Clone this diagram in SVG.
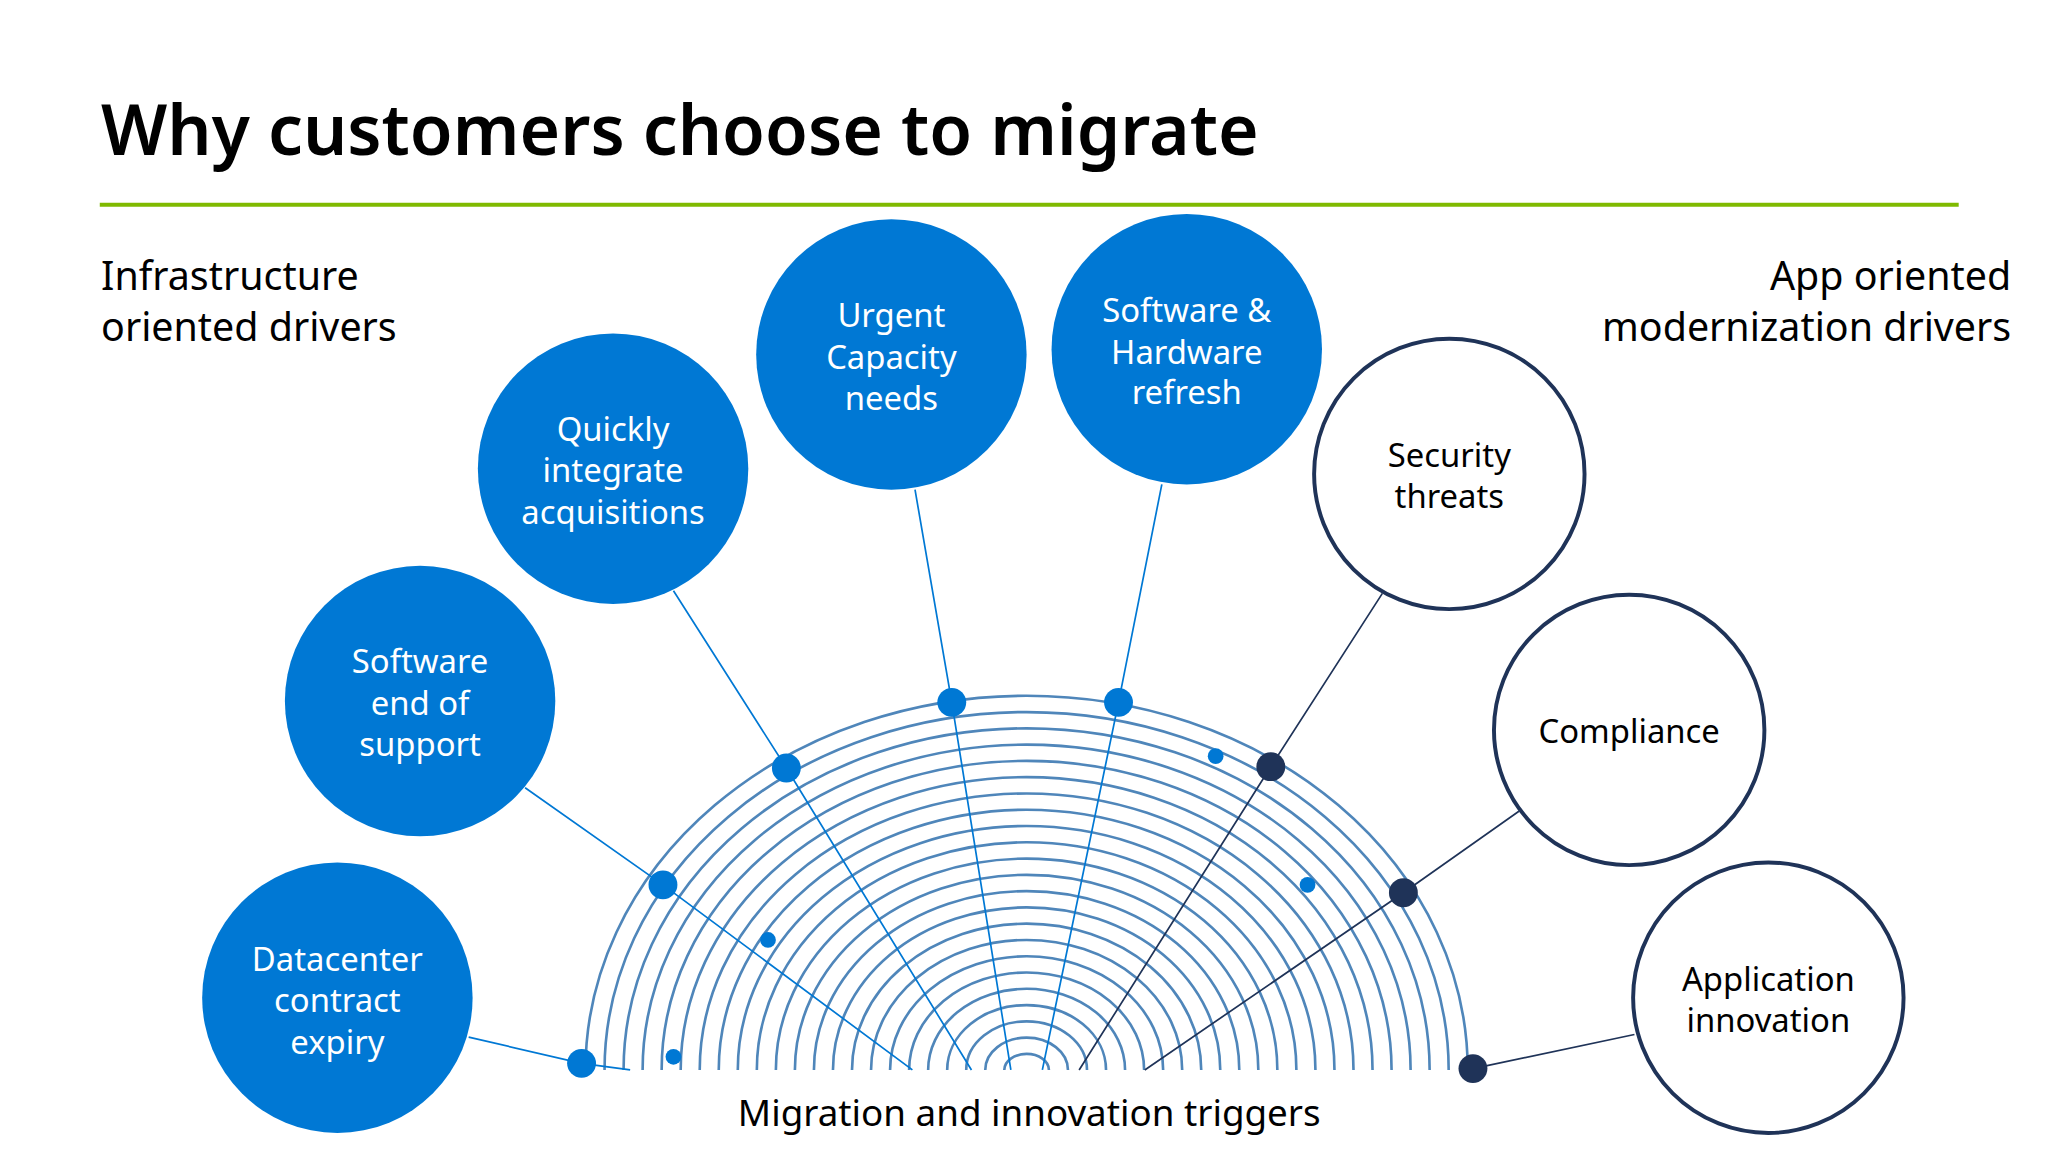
<svg xmlns="http://www.w3.org/2000/svg" width="2048" height="1152" viewBox="0 0 2048 1152">
<style>
text{font-family:"Noto Sans","Open Sans",sans-serif}
.t{font-size:25px;fill:#fff;text-anchor:middle}
.d{font-size:25px;fill:#000;text-anchor:middle}
.h{font-size:30px;fill:#000}
.f{fill:#0078d4}
.o{fill:#fff;stroke:#1f3358;stroke-width:3}
.arc{fill:none;stroke:#4f86ba;stroke-width:2}
.lb{stroke:#0078d4;stroke-width:1.3;fill:none}
.ld{stroke:#1f3358;stroke-width:1.3;fill:none}
</style>
<defs><clipPath id="c"><rect x="0" y="0" width="1560" height="815"/></clipPath></defs>
<rect width="2048" height="1152" fill="#fff"/>
<g transform="scale(1.3128)">
<text x="77" y="118" style="font-size:53px;font-weight:600" fill="#000">Why customers choose to migrate</text>
<line x1="76" y1="156" x2="1492" y2="156" stroke="#7fba00" stroke-width="3"/>
<text class="h" x="77" y="221">Infrastructure</text>
<text class="h" x="77" y="260">oriented drivers</text>
<text class="h" x="1532" y="221" text-anchor="end">App oriented</text>
<text class="h" x="1532" y="260" text-anchor="end">modernization drivers</text>
<g id="arcs" clip-path="url(#c)">
<ellipse class="arc" cx="782" cy="815" rx="336" ry="285"/><ellipse class="arc" cx="782" cy="815" rx="321.5" ry="272.6"/><ellipse class="arc" cx="782" cy="815" rx="307" ry="260.2"/><ellipse class="arc" cx="782" cy="815" rx="292.5" ry="247.8"/><ellipse class="arc" cx="782" cy="815" rx="278" ry="235.4"/><ellipse class="arc" cx="782" cy="815" rx="263.5" ry="223"/><ellipse class="arc" cx="782" cy="815" rx="249" ry="210.6"/><ellipse class="arc" cx="782" cy="815" rx="234.5" ry="198.2"/><ellipse class="arc" cx="782" cy="815" rx="220" ry="185.8"/><ellipse class="arc" cx="782" cy="815" rx="205.5" ry="173.4"/><ellipse class="arc" cx="782" cy="815" rx="191" ry="161"/><ellipse class="arc" cx="782" cy="815" rx="176.5" ry="148.6"/><ellipse class="arc" cx="782" cy="815" rx="162" ry="136.2"/><ellipse class="arc" cx="782" cy="815" rx="147.5" ry="123.8"/><ellipse class="arc" cx="782" cy="815" rx="133" ry="111.4"/><ellipse class="arc" cx="782" cy="815" rx="118.5" ry="99"/><ellipse class="arc" cx="782" cy="815" rx="104" ry="86.6"/><ellipse class="arc" cx="782" cy="815" rx="89.5" ry="74.2"/><ellipse class="arc" cx="782" cy="815" rx="75" ry="61.8"/><ellipse class="arc" cx="782" cy="815" rx="60.5" ry="49.4"/><ellipse class="arc" cx="782" cy="815" rx="46" ry="37"/><ellipse class="arc" cx="782" cy="815" rx="31.5" ry="24.6"/><ellipse class="arc" cx="782" cy="815" rx="17" ry="12.2"/>
</g>
<g id="connectors">
<polyline class="lb" points="357,790 443,810 480,815"/>
<polyline class="lb" points="400,600 505,674 695,815"/>
<polyline class="lb" points="513,450 599,585 740,815"/>
<polyline class="lb" points="697,373 725,535 770,815"/>
<polyline class="lb" points="885,369 852,535 794,815"/>
<polyline class="ld" points="1053,452 968,584 822,815"/>
<polyline class="ld" points="1157,618 1069,680 872,815"/>
<polyline class="ld" points="1245,788 1122,814"/>
</g>
<g id="dots" class="f">
<circle cx="443" cy="810" r="11"/><circle cx="505" cy="674" r="11"/><circle cx="599" cy="585" r="11"/><circle cx="725" cy="535" r="11"/><circle cx="852" cy="535" r="11"/>
<circle cx="513" cy="805" r="6"/><circle cx="585" cy="716" r="6"/><circle cx="926" cy="576" r="6"/><circle cx="996" cy="674" r="6"/>
<circle cx="968" cy="584" r="11" fill="#1f3358"/><circle cx="1069" cy="680" r="11" fill="#1f3358"/><circle cx="1122" cy="814" r="11" fill="#1f3358"/>
</g>
<g id="n1"><circle class="f" cx="257" cy="760" r="103"/><text class="t" x="257" y="740">Datacenter</text><text class="t" x="257" y="771">contract</text><text class="t" x="257" y="803">expiry</text></g>
<g id="n2"><circle class="f" cx="320" cy="534" r="103"/><text class="t" x="320" y="513">Software</text><text class="t" x="320" y="545">end of</text><text class="t" x="320" y="576">support</text></g>
<g id="n3"><circle class="f" cx="467" cy="357" r="103"/><text class="t" x="467" y="336">Quickly</text><text class="t" x="467" y="367">integrate</text><text class="t" x="467" y="399">acquisitions</text></g>
<g id="n4"><circle class="f" cx="679" cy="270" r="103"/><text class="t" x="679" y="249">Urgent</text><text class="t" x="679" y="281">Capacity</text><text class="t" x="679" y="312">needs</text></g>
<g id="n5"><circle class="f" cx="904" cy="266" r="103"/><text class="t" x="904" y="245">Software &amp;</text><text class="t" x="904" y="277">Hardware</text><text class="t" x="904" y="308">refresh</text></g>
<g id="n6"><circle class="o" cx="1104" cy="361" r="103"/><text class="d" x="1104" y="356">Security</text><text class="d" x="1104" y="387">threats</text></g>
<g id="n7"><circle class="o" cx="1241" cy="556" r="103"/><text class="d" x="1241" y="566">Compliance</text></g>
<g id="n8"><circle class="o" cx="1347" cy="760" r="103"/><text class="d" x="1347" y="755">Application</text><text class="d" x="1347" y="786">innovation</text></g>
<text x="784" y="858" style="font-size:28px" text-anchor="middle" fill="#000">Migration and innovation triggers</text>
</g>
</svg>
